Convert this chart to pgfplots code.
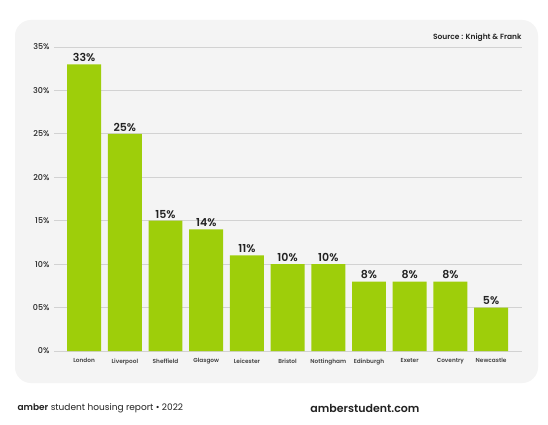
\documentclass[border=0pt]{standalone}
\usepackage{pgfplots}
\pgfplotsset{compat=1.18}
\usepackage{fontspec}
\setmainfont{Poppins}
\newfontfamily\semi{Poppins SemiBold}
\newfontfamily\medium{Poppins Medium}
\definecolor{bargreen}{HTML}{9ECE0A}
\definecolor{panel}{HTML}{F4F4F4}
\definecolor{gridc}{HTML}{D2D2D2}
\definecolor{txt}{HTML}{222222}
\begin{document}
\begin{tikzpicture}[x=1pt,y=1pt]
\fill[white] (0,0) rectangle (548,424);
\fill[panel,rounded corners=16pt] (15,41) rectangle (538,404);
\node[anchor=east,font=\semi\fontsize{7.5}{9}\selectfont,text=txt] at (525,386) {Source : Knight \& Frank};
\node[anchor=west,font=\fontsize{9}{11}\selectfont,text=txt] at (14,16) {{\semi amber} student housing report • 2022};
\node[font=\semi\fontsize{11}{13}\selectfont,text=txt] at (365,16) {amberstudent.com};
\begin{axis}[
  at={(54pt,73pt)}, anchor=south west,
  scale only axis, width=468pt, height=304pt,
  ymin=0, ymax=35, xmin=-0.74, xmax=10.76,
  axis line style={draw=none},
  ytick={0,5,...,35},
  yticklabels={0\%,05\%,10\%,15\%,20\%,25\%,30\%,35\%},
  xtick={0,...,10},
  xticklabels={London,Liverpool,Sheffield,Glasgow,Leicester,Bristol,Nottingham,Edinburgh,Exeter,Coventry,Newcastle},
  major tick length=0pt,
  ymajorgrids, grid style={gridc, line width=0.8pt},
  yticklabel style={font=\medium\fontsize{8}{10}\selectfont, text=txt, xshift=-1pt},
  xticklabel style={font=\semi\fontsize{5.8}{7}\selectfont, text=txt!85, yshift=-4pt},
  ybar, bar width=0.835, bar shift=0pt,
  nodes near coords={\pgfmathprintnumber{\pgfplotspointmeta}\%},
  every node near coord/.append style={font=\semi\fontsize{11}{13}\selectfont, text=txt, yshift=-1pt},
  /pgf/number format/assume math mode=true,
]
\addplot[fill=bargreen, draw=none] coordinates {
(0,33) (1,25) (2,15) (3,14) (4,11) (5,10) (6,10) (7,8) (8,8) (9,8) (10,5)
};
\end{axis}
\end{tikzpicture}
\end{document}
